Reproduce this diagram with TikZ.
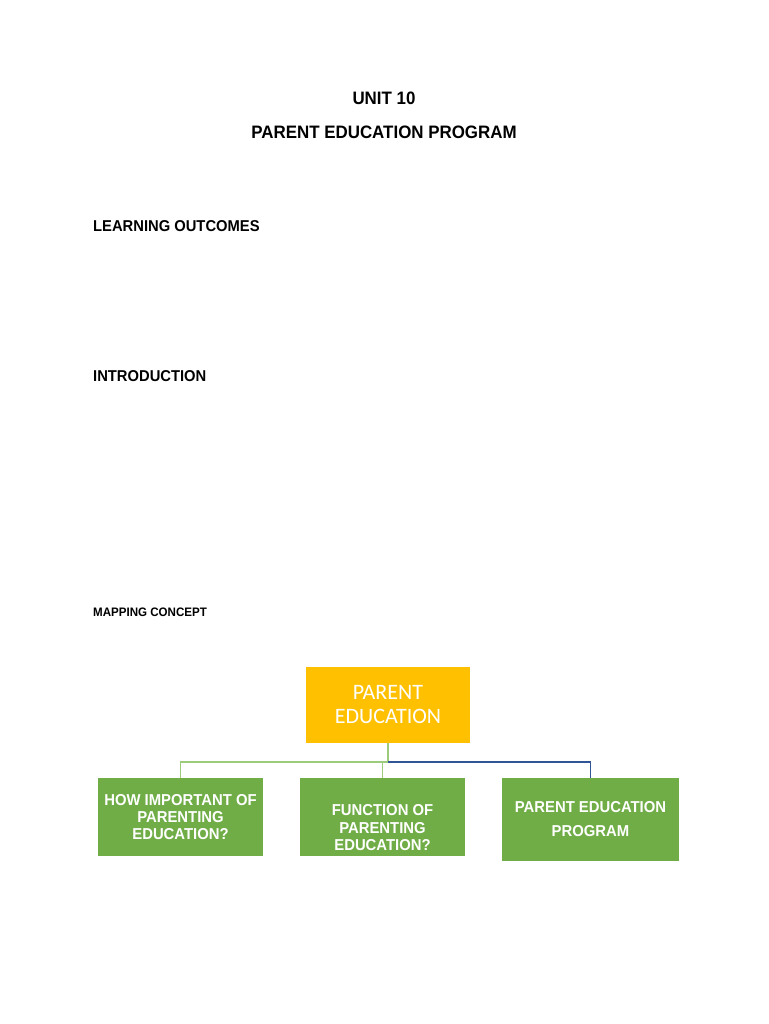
\documentclass[tikz,border=0pt]{standalone}
\usepackage{fontspec}
\setmainfont{Liberation Sans}[FakeStretch=0.94]
\newfontfamily\calibri{Carlito}
\usepackage{xcolor}
\usetikzlibrary{
    positioning
}

\definecolor{boxorange}{HTML}{FFC000}
\definecolor{boxgreen}{HTML}{70AD47}
\definecolor{linegreen}{HTML}{9CCB7C}
\definecolor{lineblue}{HTML}{2F5597}

\begin{document}
\begin{tikzpicture}[
    x=1pt,
    y=-1pt,
    heading/.style={
        inner sep=0,
        font=\bfseries\fontsize{18}{21}\selectfont
    },
    sectionhead/.style={
        inner sep=0,
        anchor=west,
        font=\bfseries\fontsize{15.7}{18}\selectfont
    },
    smallheading/.style={
        inner sep=0,
        anchor=west,
        font=\bfseries\fontsize{12.3}{15}\selectfont
    },
    topic/.style={
        rectangle,
        fill=boxorange,
        text=white,
        align=center,
        inner sep=0,
        minimum width=164,
        minimum height=76,
        font=\calibri\fontsize{22}{24}\selectfont
    },
    subtopic/.style={
        rectangle,
        fill=boxgreen,
        text=white,
        align=center,
        inner sep=0,
        minimum width=165,
        minimum height=78,
        font=\bfseries\fontsize{15.8}{17}\selectfont
    },
    greenline/.style={
        draw=linegreen,
        line width=1.6pt
    },
    blueline/.style={
        draw=lineblue,
        line width=1.6pt
    }
]

\useasboundingbox (0,0) rectangle (768,1024);

% ============================================================
% HEADINGS
% ============================================================

\node[heading] (unit) at (384,98) {UNIT 10};

\node[heading] (title) at (384,132) {PARENT EDUCATION PROGRAM};

\node[sectionhead] (outcomes) at (93,226) {LEARNING OUTCOMES};

\node[sectionhead] (intro) at (93,376) {INTRODUCTION};

\node[smallheading] (mapping) at (93,612) {MAPPING CONCEPT};

% ============================================================
% CONCEPT MAP
% ============================================================

\node[topic] (parent) at (388,705)
{
PARENT\\
EDUCATION
};

\node[subtopic] (important) at (180.5,817)
{
HOW IMPORTANT OF\\
PARENTING\\
EDUCATION?
};

\node[subtopic,
      label={[font=\bfseries\fontsize{15.8}{17.5}\selectfont,
              text=white, align=center, yshift=-11]center:
              FUNCTION OF\\PARENTING\\EDUCATION?}] (function) at (382.5,817)
{};

\node[subtopic, minimum width=177, minimum height=83,
      font=\bfseries\fontsize{15.8}{24}\selectfont] (program) at (590.5,819.5)
{
PARENT EDUCATION\\
PROGRAM
};

% ============================================================
% CONNECTIONS
% ============================================================

\coordinate (split) at (388,762);

\draw[greenline] (parent.south) -- (split);
\draw[greenline] (split) -| (important.north);
\draw[greenline] (function.north |- split) -- (function.north);
\draw[blueline] (split) -| (program.north);

\end{tikzpicture}
\end{document}
